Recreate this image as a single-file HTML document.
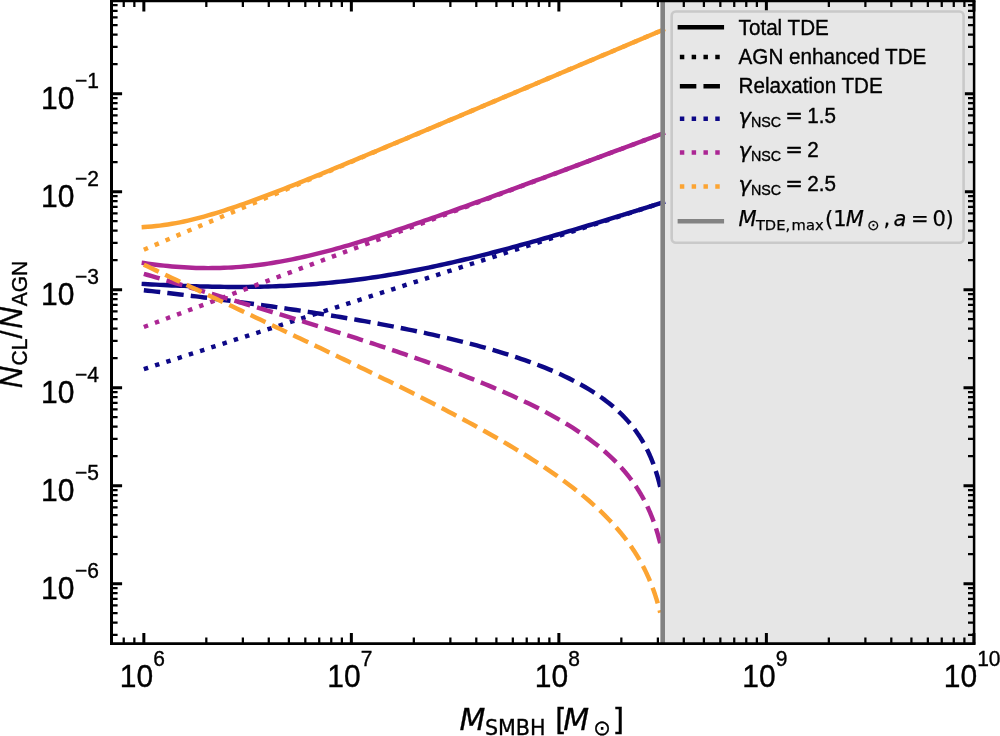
<!DOCTYPE html>
<html lang="en"><head><meta charset="utf-8"><title>TDE rate vs SMBH mass</title>
<style>html,body{margin:0;padding:0;background:#fff;}svg{display:block;}</style></head>
<body>
<svg width="1000" height="736" viewBox="0 0 1000 736">
<rect x="0" y="0" width="1000" height="736" fill="#ffffff"/>
<clipPath id="ax"><rect x="111.5" y="1.0" width="862.60" height="642.70"/></clipPath>
<rect x="662.4" y="1.0" width="311.70" height="642.70" fill="#e6e6e6"/>
<g clip-path="url(#ax)" fill="none">
<path d="M143.85,284.01 L147.86,284.23 L151.87,284.45 L155.88,284.65 L159.89,284.85 L163.90,285.04 L167.91,285.23 L171.92,285.41 L175.94,285.58 L179.95,285.74 L183.96,285.89 L187.97,286.03 L191.98,286.16 L195.99,286.29 L200.00,286.40 L204.01,286.51 L208.02,286.60 L212.03,286.68 L216.04,286.75 L220.05,286.81 L224.06,286.86 L228.07,286.90 L232.09,286.92 L236.10,286.93 L240.11,286.92 L244.12,286.91 L248.13,286.88 L252.14,286.83 L256.15,286.77 L260.16,286.70 L264.17,286.61 L268.18,286.50 L272.19,286.38 L276.20,286.24 L280.21,286.09 L284.22,285.92 L288.24,285.73 L292.25,285.52 L296.26,285.30 L300.27,285.06 L304.28,284.80 L308.29,284.53 L312.30,284.23 L316.31,283.92 L320.32,283.59 L324.33,283.24 L328.34,282.87 L332.35,282.48 L336.36,282.08 L340.37,281.65 L344.38,281.21 L348.40,280.74 L352.41,280.26 L356.42,279.76 L360.43,279.24 L364.44,278.70 L368.45,278.14 L372.46,277.56 L376.47,276.96 L380.48,276.35 L384.49,275.71 L388.50,275.06 L392.51,274.39 L396.52,273.70 L400.53,273.00 L404.55,272.27 L408.56,271.53 L412.57,270.78 L416.58,270.00 L420.59,269.21 L424.60,268.41 L428.61,267.58 L432.62,266.74 L436.63,265.89 L440.64,265.02 L444.65,264.14 L448.66,263.24 L452.67,262.33 L456.68,261.40 L460.70,260.47 L464.71,259.51 L468.72,258.55 L472.73,257.57 L476.74,256.58 L480.75,255.58 L484.76,254.57 L488.77,253.55 L492.78,252.51 L496.79,251.47 L500.80,250.42 L504.81,249.35 L508.82,248.28 L512.83,247.20 L516.84,246.10 L520.86,245.00 L524.87,243.90 L528.88,242.78 L532.89,241.65 L536.90,240.52 L540.91,239.38 L544.92,238.24 L548.93,237.09 L552.94,235.93 L556.95,234.76 L560.96,233.59 L564.97,232.41 L568.98,231.23 L572.99,230.04 L577.01,228.85 L581.02,227.65 L585.03,226.45 L589.04,225.25 L593.05,224.03 L597.06,222.82 L601.07,221.60 L605.08,220.38 L609.09,219.15 L613.10,217.92 L617.11,216.69 L621.12,215.45 L621.47,215.34 L621.82,215.24 L622.16,215.13 L622.51,215.02 L622.86,214.91 L623.20,214.81 L623.55,214.70 L623.90,214.59 L624.24,214.48 L624.59,214.38 L624.94,214.27 L625.29,214.16 L625.63,214.06 L625.98,213.95 L626.33,213.84 L626.67,213.73 L627.02,213.63 L627.37,213.52 L627.71,213.41 L628.06,213.30 L628.41,213.20 L628.75,213.09 L629.10,212.98 L629.45,212.87 L629.79,212.77 L630.14,212.66 L630.49,212.55 L630.84,212.44 L631.18,212.33 L631.53,212.23 L631.88,212.12 L632.22,212.01 L632.57,211.90 L632.92,211.80 L633.26,211.69 L633.61,211.58 L633.96,211.47 L634.30,211.36 L634.65,211.26 L635.00,211.15 L635.34,211.04 L635.69,210.93 L636.04,210.82 L636.39,210.72 L636.73,210.61 L637.08,210.50 L637.43,210.39 L637.77,210.28 L638.12,210.18 L638.47,210.07 L638.81,209.96 L639.16,209.85 L639.51,209.74 L639.85,209.63 L640.20,209.53 L640.55,209.42 L640.89,209.31 L641.24,209.20 L641.59,209.09 L641.93,208.98 L642.28,208.88 L642.63,208.77 L642.98,208.66 L643.32,208.55 L643.67,208.44 L644.02,208.33 L644.36,208.23 L644.71,208.12 L645.06,208.01 L645.40,207.90 L645.75,207.79 L646.10,207.68 L646.44,207.57 L646.79,207.47 L647.14,207.36 L647.48,207.25 L647.83,207.14 L648.18,207.03 L648.53,206.92 L648.87,206.81 L649.22,206.70 L649.57,206.60 L649.91,206.49 L650.26,206.38 L650.61,206.27 L650.95,206.16 L651.30,206.05 L651.65,205.94 L651.99,205.83 L652.34,205.72 L652.69,205.62 L653.03,205.51 L653.38,205.40 L653.73,205.29 L654.08,205.18 L654.42,205.07 L654.77,204.96 L655.12,204.85 L655.46,204.74 L655.81,204.63 L656.16,204.53 L656.50,204.42 L656.85,204.31 L657.20,204.20 L657.54,204.09 L657.89,203.98 L658.24,203.87 L658.58,203.76 L658.93,203.65 L659.28,203.54 L659.63,203.43 L659.97,203.32 L660.32,203.21 L660.67,203.11 L661.01,203.00 L661.36,202.89 L661.71,202.78 L662.05,202.67 L662.40,202.56 L663.00,202.37" stroke="#0d0887" stroke-width="4.455" stroke-linecap="square" stroke-linejoin="round"/>
<path d="M143.85,369.10 L147.86,367.81 L151.87,366.52 L155.88,365.24 L159.89,363.95 L163.90,362.66 L167.91,361.37 L171.92,360.09 L175.94,358.80 L179.95,357.51 L183.96,356.22 L187.97,354.93 L191.98,353.65 L195.99,352.36 L200.00,351.07 L204.01,349.78 L208.02,348.50 L212.03,347.21 L216.04,345.92 L220.05,344.63 L224.06,343.34 L228.07,342.06 L232.09,340.77 L236.10,339.48 L240.11,338.19 L244.12,336.91 L248.13,335.62 L252.14,334.33 L256.15,333.04 L260.16,331.75 L264.17,330.47 L268.18,329.18 L272.19,327.89 L276.20,326.60 L280.21,325.32 L284.22,324.03 L288.24,322.74 L292.25,321.45 L296.26,320.16 L300.27,318.88 L304.28,317.59 L308.29,316.30 L312.30,315.01 L316.31,313.73 L320.32,312.44 L324.33,311.15 L328.34,309.86 L332.35,308.57 L336.36,307.29 L340.37,306.00 L344.38,304.71 L348.40,303.42 L352.41,302.14 L356.42,300.85 L360.43,299.56 L364.44,298.27 L368.45,296.98 L372.46,295.70 L376.47,294.41 L380.48,293.12 L384.49,291.83 L388.50,290.55 L392.51,289.26 L396.52,287.97 L400.53,286.68 L404.55,285.39 L408.56,284.11 L412.57,282.82 L416.58,281.53 L420.59,280.24 L424.60,278.96 L428.61,277.67 L432.62,276.38 L436.63,275.09 L440.64,273.80 L444.65,272.52 L448.66,271.23 L452.67,269.94 L456.68,268.65 L460.70,267.36 L464.71,266.08 L468.72,264.79 L472.73,263.50 L476.74,262.21 L480.75,260.93 L484.76,259.64 L488.77,258.35 L492.78,257.06 L496.79,255.77 L500.80,254.49 L504.81,253.20 L508.82,251.91 L512.83,250.62 L516.84,249.34 L520.86,248.05 L524.87,246.76 L528.88,245.47 L532.89,244.18 L536.90,242.90 L540.91,241.61 L544.92,240.32 L548.93,239.03 L552.94,237.75 L556.95,236.46 L560.96,235.17 L564.97,233.88 L568.98,232.59 L572.99,231.31 L577.01,230.02 L581.02,228.73 L585.03,227.44 L589.04,226.16 L593.05,224.87 L597.06,223.58 L601.07,222.29 L605.08,221.00 L609.09,219.72 L613.10,218.43 L617.11,217.14 L621.12,215.85 L621.47,215.74 L621.82,215.63 L622.16,215.52 L622.51,215.41 L622.86,215.30 L623.20,215.19 L623.55,215.07 L623.90,214.96 L624.24,214.85 L624.59,214.74 L624.94,214.63 L625.29,214.52 L625.63,214.41 L625.98,214.29 L626.33,214.18 L626.67,214.07 L627.02,213.96 L627.37,213.85 L627.71,213.74 L628.06,213.63 L628.41,213.51 L628.75,213.40 L629.10,213.29 L629.45,213.18 L629.79,213.07 L630.14,212.96 L630.49,212.85 L630.84,212.74 L631.18,212.62 L631.53,212.51 L631.88,212.40 L632.22,212.29 L632.57,212.18 L632.92,212.07 L633.26,211.96 L633.61,211.84 L633.96,211.73 L634.30,211.62 L634.65,211.51 L635.00,211.40 L635.34,211.29 L635.69,211.18 L636.04,211.06 L636.39,210.95 L636.73,210.84 L637.08,210.73 L637.43,210.62 L637.77,210.51 L638.12,210.40 L638.47,210.28 L638.81,210.17 L639.16,210.06 L639.51,209.95 L639.85,209.84 L640.20,209.73 L640.55,209.62 L640.89,209.51 L641.24,209.39 L641.59,209.28 L641.93,209.17 L642.28,209.06 L642.63,208.95 L642.98,208.84 L643.32,208.73 L643.67,208.61 L644.02,208.50 L644.36,208.39 L644.71,208.28 L645.06,208.17 L645.40,208.06 L645.75,207.95 L646.10,207.83 L646.44,207.72 L646.79,207.61 L647.14,207.50 L647.48,207.39 L647.83,207.28 L648.18,207.17 L648.53,207.05 L648.87,206.94 L649.22,206.83 L649.57,206.72 L649.91,206.61 L650.26,206.50 L650.61,206.39 L650.95,206.28 L651.30,206.16 L651.65,206.05 L651.99,205.94 L652.34,205.83 L652.69,205.72 L653.03,205.61 L653.38,205.50 L653.73,205.38 L654.08,205.27 L654.42,205.16 L654.77,205.05 L655.12,204.94 L655.46,204.83 L655.81,204.72 L656.16,204.60 L656.50,204.49 L656.85,204.38 L657.20,204.27 L657.54,204.16 L657.89,204.05 L658.24,203.94 L658.58,203.83 L658.93,203.71 L659.28,203.60 L659.63,203.49 L659.97,203.38 L660.32,203.27 L660.67,203.16 L661.01,203.05 L661.36,202.93 L661.71,202.82 L662.05,202.71 L662.40,202.60" stroke="#0d0887" stroke-width="4.455" stroke-dasharray="4.455 7.351"/>
<path d="M143.85,290.21 L147.86,290.67 L151.87,291.13 L155.88,291.60 L159.89,292.07 L163.90,292.54 L167.91,293.01 L171.92,293.49 L175.94,293.97 L179.95,294.45 L183.96,294.94 L187.97,295.43 L191.98,295.92 L195.99,296.41 L200.00,296.91 L204.01,297.42 L208.02,297.92 L212.03,298.43 L216.04,298.94 L220.05,299.46 L224.06,299.98 L228.07,300.50 L232.09,301.03 L236.10,301.56 L240.11,302.09 L244.12,302.63 L248.13,303.17 L252.14,303.72 L256.15,304.27 L260.16,304.83 L264.17,305.39 L268.18,305.95 L272.19,306.52 L276.20,307.10 L280.21,307.68 L284.22,308.26 L288.24,308.85 L292.25,309.44 L296.26,310.04 L300.27,310.65 L304.28,311.26 L308.29,311.87 L312.30,312.49 L316.31,313.12 L320.32,313.75 L324.33,314.39 L328.34,315.04 L332.35,315.69 L336.36,316.35 L340.37,317.02 L344.38,317.69 L348.40,318.37 L352.41,319.06 L356.42,319.75 L360.43,320.45 L364.44,321.16 L368.45,321.88 L372.46,322.61 L376.47,323.34 L380.48,324.09 L384.49,324.84 L388.50,325.60 L392.51,326.38 L396.52,327.16 L400.53,327.95 L404.55,328.75 L408.56,329.57 L412.57,330.39 L416.58,331.23 L420.59,332.08 L424.60,332.94 L428.61,333.81 L432.62,334.70 L436.63,335.60 L440.64,336.51 L444.65,337.44 L448.66,338.38 L452.67,339.34 L456.68,340.32 L460.70,341.31 L464.71,342.32 L468.72,343.35 L472.73,344.39 L476.74,345.46 L480.75,346.55 L484.76,347.66 L488.77,348.79 L492.78,349.94 L496.79,351.12 L500.80,352.32 L504.81,353.56 L508.82,354.81 L512.83,356.10 L516.84,357.42 L520.86,358.77 L524.87,360.16 L528.88,361.58 L532.89,363.05 L536.90,364.55 L540.91,366.09 L544.92,367.68 L548.93,369.32 L552.94,371.02 L556.95,372.77 L560.96,374.57 L564.97,376.44 L568.98,378.38 L572.99,380.40 L577.01,382.50 L581.02,384.68 L585.03,386.96 L589.04,389.34 L593.05,391.84 L597.06,394.47 L601.07,397.24 L605.08,400.16 L609.09,403.26 L613.10,406.57 L617.11,410.10 L621.12,413.90 L621.47,414.24 L621.82,414.59 L622.16,414.93 L622.51,415.28 L622.86,415.64 L623.20,415.99 L623.55,416.35 L623.90,416.71 L624.24,417.07 L624.59,417.43 L624.94,417.80 L625.29,418.17 L625.63,418.54 L625.98,418.92 L626.33,419.29 L626.67,419.68 L627.02,420.06 L627.37,420.45 L627.71,420.84 L628.06,421.23 L628.41,421.62 L628.75,422.02 L629.10,422.43 L629.45,422.83 L629.79,423.24 L630.14,423.65 L630.49,424.07 L630.84,424.49 L631.18,424.91 L631.53,425.34 L631.88,425.77 L632.22,426.20 L632.57,426.64 L632.92,427.08 L633.26,427.52 L633.61,427.97 L633.96,428.42 L634.30,428.88 L634.65,429.34 L635.00,429.81 L635.34,430.28 L635.69,430.75 L636.04,431.23 L636.39,431.71 L636.73,432.20 L637.08,432.70 L637.43,433.19 L637.77,433.70 L638.12,434.20 L638.47,434.72 L638.81,435.24 L639.16,435.76 L639.51,436.29 L639.85,436.83 L640.20,437.37 L640.55,437.91 L640.89,438.47 L641.24,439.03 L641.59,439.59 L641.93,440.16 L642.28,440.74 L642.63,441.33 L642.98,441.92 L643.32,442.52 L643.67,443.12 L644.02,443.74 L644.36,444.36 L644.71,444.99 L645.06,445.63 L645.40,446.27 L645.75,446.93 L646.10,447.59 L646.44,448.26 L646.79,448.94 L647.14,449.64 L647.48,450.34 L647.83,451.05 L648.18,451.77 L648.53,452.50 L648.87,453.24 L649.22,453.99 L649.57,454.76 L649.91,455.54 L650.26,456.33 L650.61,457.13 L650.95,457.94 L651.30,458.77 L651.65,459.61 L651.99,460.47 L652.34,461.34 L652.69,462.23 L653.03,463.14 L653.38,464.06 L653.73,465.00 L654.08,465.95 L654.42,466.93 L654.77,467.92 L655.12,468.94 L655.46,469.98 L655.81,471.04 L656.16,472.12 L656.50,473.22 L656.85,474.35 L657.20,475.51 L657.54,476.70 L657.89,477.91 L658.24,479.16 L658.58,480.44 L658.93,481.75 L659.28,483.09 L659.63,484.48 L659.97,485.90 L660.20,486.86" stroke="#0d0887" stroke-width="4.455" stroke-dasharray="16.483 7.128" stroke-linejoin="round"/>
<path d="M143.85,263.08 L147.86,263.65 L151.87,264.19 L155.88,264.70 L159.89,265.18 L163.90,265.63 L167.91,266.04 L171.92,266.42 L175.94,266.76 L179.95,267.06 L183.96,267.33 L187.97,267.56 L191.98,267.75 L195.99,267.90 L200.00,268.01 L204.01,268.08 L208.02,268.11 L212.03,268.10 L216.04,268.05 L220.05,267.95 L224.06,267.82 L228.07,267.64 L232.09,267.42 L236.10,267.15 L240.11,266.85 L244.12,266.50 L248.13,266.12 L252.14,265.69 L256.15,265.23 L260.16,264.72 L264.17,264.17 L268.18,263.59 L272.19,262.97 L276.20,262.31 L280.21,261.62 L284.22,260.89 L288.24,260.13 L292.25,259.33 L296.26,258.51 L300.27,257.65 L304.28,256.76 L308.29,255.84 L312.30,254.90 L316.31,253.93 L320.32,252.93 L324.33,251.90 L328.34,250.85 L332.35,249.78 L336.36,248.69 L340.37,247.58 L344.38,246.44 L348.40,245.29 L352.41,244.11 L356.42,242.92 L360.43,241.72 L364.44,240.49 L368.45,239.26 L372.46,238.00 L376.47,236.74 L380.48,235.46 L384.49,234.17 L388.50,232.86 L392.51,231.55 L396.52,230.22 L400.53,228.89 L404.55,227.54 L408.56,226.19 L412.57,224.83 L416.58,223.45 L420.59,222.08 L424.60,220.69 L428.61,219.30 L432.62,217.90 L436.63,216.50 L440.64,215.09 L444.65,213.67 L448.66,212.25 L452.67,210.83 L456.68,209.40 L460.70,207.97 L464.71,206.53 L468.72,205.09 L472.73,203.65 L476.74,202.20 L480.75,200.75 L484.76,199.29 L488.77,197.84 L492.78,196.38 L496.79,194.92 L500.80,193.46 L504.81,191.99 L508.82,190.52 L512.83,189.05 L516.84,187.58 L520.86,186.11 L524.87,184.63 L528.88,183.16 L532.89,181.68 L536.90,180.20 L540.91,178.72 L544.92,177.24 L548.93,175.76 L552.94,174.28 L556.95,172.80 L560.96,171.31 L564.97,169.83 L568.98,168.34 L572.99,166.85 L577.01,165.37 L581.02,163.88 L585.03,162.39 L589.04,160.90 L593.05,159.41 L597.06,157.92 L601.07,156.43 L605.08,154.94 L609.09,153.45 L613.10,151.96 L617.11,150.46 L621.12,148.97 L621.47,148.84 L621.82,148.71 L622.16,148.58 L622.51,148.45 L622.86,148.33 L623.20,148.20 L623.55,148.07 L623.90,147.94 L624.24,147.81 L624.59,147.68 L624.94,147.55 L625.29,147.42 L625.63,147.29 L625.98,147.16 L626.33,147.03 L626.67,146.91 L627.02,146.78 L627.37,146.65 L627.71,146.52 L628.06,146.39 L628.41,146.26 L628.75,146.13 L629.10,146.00 L629.45,145.87 L629.79,145.74 L630.14,145.61 L630.49,145.48 L630.84,145.36 L631.18,145.23 L631.53,145.10 L631.88,144.97 L632.22,144.84 L632.57,144.71 L632.92,144.58 L633.26,144.45 L633.61,144.32 L633.96,144.19 L634.30,144.06 L634.65,143.94 L635.00,143.81 L635.34,143.68 L635.69,143.55 L636.04,143.42 L636.39,143.29 L636.73,143.16 L637.08,143.03 L637.43,142.90 L637.77,142.77 L638.12,142.64 L638.47,142.51 L638.81,142.39 L639.16,142.26 L639.51,142.13 L639.85,142.00 L640.20,141.87 L640.55,141.74 L640.89,141.61 L641.24,141.48 L641.59,141.35 L641.93,141.22 L642.28,141.09 L642.63,140.96 L642.98,140.83 L643.32,140.71 L643.67,140.58 L644.02,140.45 L644.36,140.32 L644.71,140.19 L645.06,140.06 L645.40,139.93 L645.75,139.80 L646.10,139.67 L646.44,139.54 L646.79,139.41 L647.14,139.28 L647.48,139.16 L647.83,139.03 L648.18,138.90 L648.53,138.77 L648.87,138.64 L649.22,138.51 L649.57,138.38 L649.91,138.25 L650.26,138.12 L650.61,137.99 L650.95,137.86 L651.30,137.73 L651.65,137.60 L651.99,137.48 L652.34,137.35 L652.69,137.22 L653.03,137.09 L653.38,136.96 L653.73,136.83 L654.08,136.70 L654.42,136.57 L654.77,136.44 L655.12,136.31 L655.46,136.18 L655.81,136.05 L656.16,135.92 L656.50,135.80 L656.85,135.67 L657.20,135.54 L657.54,135.41 L657.89,135.28 L658.24,135.15 L658.58,135.02 L658.93,134.89 L659.28,134.76 L659.63,134.63 L659.97,134.50 L660.32,134.37 L660.67,134.24 L661.01,134.11 L661.36,133.99 L661.71,133.86 L662.05,133.73 L662.40,133.60 L663.00,133.37" stroke="#ac2694" stroke-width="4.455" stroke-linecap="square" stroke-linejoin="round"/>
<path d="M143.85,327.00 L147.86,325.50 L151.87,324.01 L155.88,322.51 L159.89,321.02 L163.90,319.52 L167.91,318.02 L171.92,316.53 L175.94,315.03 L179.95,313.54 L183.96,312.04 L187.97,310.55 L191.98,309.05 L195.99,307.55 L200.00,306.06 L204.01,304.56 L208.02,303.07 L212.03,301.57 L216.04,300.07 L220.05,298.58 L224.06,297.08 L228.07,295.59 L232.09,294.09 L236.10,292.60 L240.11,291.10 L244.12,289.60 L248.13,288.11 L252.14,286.61 L256.15,285.12 L260.16,283.62 L264.17,282.12 L268.18,280.63 L272.19,279.13 L276.20,277.64 L280.21,276.14 L284.22,274.65 L288.24,273.15 L292.25,271.65 L296.26,270.16 L300.27,268.66 L304.28,267.17 L308.29,265.67 L312.30,264.17 L316.31,262.68 L320.32,261.18 L324.33,259.69 L328.34,258.19 L332.35,256.70 L336.36,255.20 L340.37,253.70 L344.38,252.21 L348.40,250.71 L352.41,249.22 L356.42,247.72 L360.43,246.22 L364.44,244.73 L368.45,243.23 L372.46,241.74 L376.47,240.24 L380.48,238.75 L384.49,237.25 L388.50,235.75 L392.51,234.26 L396.52,232.76 L400.53,231.27 L404.55,229.77 L408.56,228.27 L412.57,226.78 L416.58,225.28 L420.59,223.79 L424.60,222.29 L428.61,220.80 L432.62,219.30 L436.63,217.80 L440.64,216.31 L444.65,214.81 L448.66,213.32 L452.67,211.82 L456.68,210.32 L460.70,208.83 L464.71,207.33 L468.72,205.84 L472.73,204.34 L476.74,202.85 L480.75,201.35 L484.76,199.85 L488.77,198.36 L492.78,196.86 L496.79,195.37 L500.80,193.87 L504.81,192.37 L508.82,190.88 L512.83,189.38 L516.84,187.89 L520.86,186.39 L524.87,184.90 L528.88,183.40 L532.89,181.90 L536.90,180.41 L540.91,178.91 L544.92,177.42 L548.93,175.92 L552.94,174.42 L556.95,172.93 L560.96,171.43 L564.97,169.94 L568.98,168.44 L572.99,166.94 L577.01,165.45 L581.02,163.95 L585.03,162.46 L589.04,160.96 L593.05,159.47 L597.06,157.97 L601.07,156.47 L605.08,154.98 L609.09,153.48 L613.10,151.99 L617.11,150.49 L621.12,148.99 L621.47,148.87 L621.82,148.74 L622.16,148.61 L622.51,148.48 L622.86,148.35 L623.20,148.22 L623.55,148.09 L623.90,147.96 L624.24,147.83 L624.59,147.70 L624.94,147.57 L625.29,147.44 L625.63,147.31 L625.98,147.18 L626.33,147.05 L626.67,146.92 L627.02,146.80 L627.37,146.67 L627.71,146.54 L628.06,146.41 L628.41,146.28 L628.75,146.15 L629.10,146.02 L629.45,145.89 L629.79,145.76 L630.14,145.63 L630.49,145.50 L630.84,145.37 L631.18,145.24 L631.53,145.11 L631.88,144.98 L632.22,144.86 L632.57,144.73 L632.92,144.60 L633.26,144.47 L633.61,144.34 L633.96,144.21 L634.30,144.08 L634.65,143.95 L635.00,143.82 L635.34,143.69 L635.69,143.56 L636.04,143.43 L636.39,143.30 L636.73,143.17 L637.08,143.04 L637.43,142.91 L637.77,142.79 L638.12,142.66 L638.47,142.53 L638.81,142.40 L639.16,142.27 L639.51,142.14 L639.85,142.01 L640.20,141.88 L640.55,141.75 L640.89,141.62 L641.24,141.49 L641.59,141.36 L641.93,141.23 L642.28,141.10 L642.63,140.97 L642.98,140.84 L643.32,140.72 L643.67,140.59 L644.02,140.46 L644.36,140.33 L644.71,140.20 L645.06,140.07 L645.40,139.94 L645.75,139.81 L646.10,139.68 L646.44,139.55 L646.79,139.42 L647.14,139.29 L647.48,139.16 L647.83,139.03 L648.18,138.90 L648.53,138.77 L648.87,138.65 L649.22,138.52 L649.57,138.39 L649.91,138.26 L650.26,138.13 L650.61,138.00 L650.95,137.87 L651.30,137.74 L651.65,137.61 L651.99,137.48 L652.34,137.35 L652.69,137.22 L653.03,137.09 L653.38,136.96 L653.73,136.83 L654.08,136.70 L654.42,136.58 L654.77,136.45 L655.12,136.32 L655.46,136.19 L655.81,136.06 L656.16,135.93 L656.50,135.80 L656.85,135.67 L657.20,135.54 L657.54,135.41 L657.89,135.28 L658.24,135.15 L658.58,135.02 L658.93,134.89 L659.28,134.76 L659.63,134.63 L659.97,134.51 L660.32,134.38 L660.67,134.25 L661.01,134.12 L661.36,133.99 L661.71,133.86 L662.05,133.73 L662.40,133.60" stroke="#ac2694" stroke-width="4.455" stroke-dasharray="4.455 7.351"/>
<path d="M143.85,273.80 L147.86,274.99 L151.87,276.17 L155.88,277.35 L159.89,278.54 L163.90,279.72 L167.91,280.91 L171.92,282.09 L175.94,283.28 L179.95,284.46 L183.96,285.65 L187.97,286.84 L191.98,288.02 L195.99,289.21 L200.00,290.40 L204.01,291.59 L208.02,292.78 L212.03,293.97 L216.04,295.16 L220.05,296.36 L224.06,297.55 L228.07,298.75 L232.09,299.94 L236.10,301.14 L240.11,302.34 L244.12,303.54 L248.13,304.75 L252.14,305.95 L256.15,307.16 L260.16,308.37 L264.17,309.58 L268.18,310.79 L272.19,312.00 L276.20,313.22 L280.21,314.44 L284.22,315.66 L288.24,316.88 L292.25,318.11 L296.26,319.34 L300.27,320.57 L304.28,321.81 L308.29,323.05 L312.30,324.29 L316.31,325.53 L320.32,326.78 L324.33,328.04 L328.34,329.29 L332.35,330.56 L336.36,331.82 L340.37,333.09 L344.38,334.36 L348.40,335.64 L352.41,336.93 L356.42,338.22 L360.43,339.51 L364.44,340.81 L368.45,342.12 L372.46,343.43 L376.47,344.75 L380.48,346.07 L384.49,347.40 L388.50,348.74 L392.51,350.09 L396.52,351.44 L400.53,352.81 L404.55,354.18 L408.56,355.55 L412.57,356.94 L416.58,358.34 L420.59,359.75 L424.60,361.16 L428.61,362.59 L432.62,364.03 L436.63,365.48 L440.64,366.94 L444.65,368.42 L448.66,369.91 L452.67,371.41 L456.68,372.92 L460.70,374.45 L464.71,376.00 L468.72,377.56 L472.73,379.14 L476.74,380.74 L480.75,382.36 L484.76,383.99 L488.77,385.65 L492.78,387.33 L496.79,389.03 L500.80,390.75 L504.81,392.50 L508.82,394.28 L512.83,396.08 L516.84,397.91 L520.86,399.78 L524.87,401.68 L528.88,403.61 L532.89,405.58 L536.90,407.59 L540.91,409.64 L544.92,411.74 L548.93,413.89 L552.94,416.08 L556.95,418.33 L560.96,420.64 L564.97,423.01 L568.98,425.45 L572.99,427.97 L577.01,430.57 L581.02,433.25 L585.03,436.03 L589.04,438.91 L593.05,441.91 L597.06,445.03 L601.07,448.29 L605.08,451.72 L609.09,455.32 L613.10,459.12 L617.11,463.14 L621.12,467.43 L621.47,467.82 L621.82,468.20 L622.16,468.59 L622.51,468.99 L622.86,469.38 L623.20,469.78 L623.55,470.18 L623.90,470.58 L624.24,470.98 L624.59,471.39 L624.94,471.80 L625.29,472.21 L625.63,472.62 L625.98,473.04 L626.33,473.46 L626.67,473.88 L627.02,474.31 L627.37,474.74 L627.71,475.17 L628.06,475.60 L628.41,476.04 L628.75,476.48 L629.10,476.92 L629.45,477.37 L629.79,477.82 L630.14,478.27 L630.49,478.73 L630.84,479.19 L631.18,479.65 L631.53,480.12 L631.88,480.59 L632.22,481.07 L632.57,481.54 L632.92,482.02 L633.26,482.51 L633.61,483.00 L633.96,483.49 L634.30,483.99 L634.65,484.49 L635.00,485.00 L635.34,485.51 L635.69,486.02 L636.04,486.54 L636.39,487.06 L636.73,487.59 L637.08,488.12 L637.43,488.66 L637.77,489.20 L638.12,489.74 L638.47,490.30 L638.81,490.85 L639.16,491.41 L639.51,491.98 L639.85,492.55 L640.20,493.13 L640.55,493.72 L640.89,494.30 L641.24,494.90 L641.59,495.50 L641.93,496.11 L642.28,496.72 L642.63,497.34 L642.98,497.97 L643.32,498.60 L643.67,499.24 L644.02,499.89 L644.36,500.55 L644.71,501.21 L645.06,501.88 L645.40,502.56 L645.75,503.24 L646.10,503.94 L646.44,504.64 L646.79,505.35 L647.14,506.07 L647.48,506.80 L647.83,507.54 L648.18,508.28 L648.53,509.04 L648.87,509.81 L649.22,510.59 L649.57,511.38 L649.91,512.17 L650.26,512.99 L650.61,513.81 L650.95,514.64 L651.30,515.49 L651.65,516.35 L651.99,517.22 L652.34,518.11 L652.69,519.01 L653.03,519.93 L653.38,520.86 L653.73,521.80 L654.08,522.77 L654.42,523.75 L654.77,524.74 L655.12,525.76 L655.46,526.79 L655.81,527.84 L656.16,528.92 L656.50,530.01 L656.85,531.13 L657.20,532.26 L657.54,533.43 L657.89,534.61 L658.24,535.83 L658.58,537.07 L658.93,538.34 L659.28,539.64 L659.63,540.97 L659.97,542.33 L660.20,543.25" stroke="#ac2694" stroke-width="4.455" stroke-dasharray="16.483 7.128" stroke-linejoin="round"/>
<path d="M143.85,227.03 L147.86,226.78 L151.87,226.46 L155.88,226.07 L159.89,225.61 L163.90,225.08 L167.91,224.48 L171.92,223.82 L175.94,223.10 L179.95,222.32 L183.96,221.48 L187.97,220.59 L191.98,219.65 L195.99,218.65 L200.00,217.61 L204.01,216.53 L208.02,215.40 L212.03,214.24 L216.04,213.04 L220.05,211.80 L224.06,210.53 L228.07,209.23 L232.09,207.90 L236.10,206.54 L240.11,205.16 L244.12,203.76 L248.13,202.33 L252.14,200.88 L256.15,199.41 L260.16,197.93 L264.17,196.43 L268.18,194.91 L272.19,193.38 L276.20,191.84 L280.21,190.29 L284.22,188.72 L288.24,187.14 L292.25,185.56 L296.26,183.96 L300.27,182.36 L304.28,180.75 L308.29,179.13 L312.30,177.51 L316.31,175.88 L320.32,174.24 L324.33,172.60 L328.34,170.96 L332.35,169.31 L336.36,167.66 L340.37,166.00 L344.38,164.34 L348.40,162.68 L352.41,161.01 L356.42,159.34 L360.43,157.67 L364.44,156.00 L368.45,154.32 L372.46,152.65 L376.47,150.97 L380.48,149.29 L384.49,147.61 L388.50,145.92 L392.51,144.24 L396.52,142.55 L400.53,140.87 L404.55,139.18 L408.56,137.49 L412.57,135.80 L416.58,134.11 L420.59,132.42 L424.60,130.73 L428.61,129.04 L432.62,127.34 L436.63,125.65 L440.64,123.96 L444.65,122.26 L448.66,120.57 L452.67,118.88 L456.68,117.18 L460.70,115.48 L464.71,113.79 L468.72,112.09 L472.73,110.40 L476.74,108.70 L480.75,107.01 L484.76,105.31 L488.77,103.61 L492.78,101.92 L496.79,100.22 L500.80,98.52 L504.81,96.82 L508.82,95.13 L512.83,93.43 L516.84,91.73 L520.86,90.03 L524.87,88.34 L528.88,86.64 L532.89,84.94 L536.90,83.24 L540.91,81.54 L544.92,79.85 L548.93,78.15 L552.94,76.45 L556.95,74.75 L560.96,73.05 L564.97,71.36 L568.98,69.66 L572.99,67.96 L577.01,66.26 L581.02,64.56 L585.03,62.87 L589.04,61.17 L593.05,59.47 L597.06,57.77 L601.07,56.07 L605.08,54.37 L609.09,52.68 L613.10,50.98 L617.11,49.28 L621.12,47.58 L621.47,47.43 L621.82,47.29 L622.16,47.14 L622.51,46.99 L622.86,46.85 L623.20,46.70 L623.55,46.55 L623.90,46.40 L624.24,46.26 L624.59,46.11 L624.94,45.96 L625.29,45.82 L625.63,45.67 L625.98,45.52 L626.33,45.38 L626.67,45.23 L627.02,45.08 L627.37,44.94 L627.71,44.79 L628.06,44.64 L628.41,44.50 L628.75,44.35 L629.10,44.20 L629.45,44.05 L629.79,43.91 L630.14,43.76 L630.49,43.61 L630.84,43.47 L631.18,43.32 L631.53,43.17 L631.88,43.03 L632.22,42.88 L632.57,42.73 L632.92,42.59 L633.26,42.44 L633.61,42.29 L633.96,42.14 L634.30,42.00 L634.65,41.85 L635.00,41.70 L635.34,41.56 L635.69,41.41 L636.04,41.26 L636.39,41.12 L636.73,40.97 L637.08,40.82 L637.43,40.68 L637.77,40.53 L638.12,40.38 L638.47,40.24 L638.81,40.09 L639.16,39.94 L639.51,39.79 L639.85,39.65 L640.20,39.50 L640.55,39.35 L640.89,39.21 L641.24,39.06 L641.59,38.91 L641.93,38.77 L642.28,38.62 L642.63,38.47 L642.98,38.33 L643.32,38.18 L643.67,38.03 L644.02,37.89 L644.36,37.74 L644.71,37.59 L645.06,37.44 L645.40,37.30 L645.75,37.15 L646.10,37.00 L646.44,36.86 L646.79,36.71 L647.14,36.56 L647.48,36.42 L647.83,36.27 L648.18,36.12 L648.53,35.98 L648.87,35.83 L649.22,35.68 L649.57,35.53 L649.91,35.39 L650.26,35.24 L650.61,35.09 L650.95,34.95 L651.30,34.80 L651.65,34.65 L651.99,34.51 L652.34,34.36 L652.69,34.21 L653.03,34.07 L653.38,33.92 L653.73,33.77 L654.08,33.63 L654.42,33.48 L654.77,33.33 L655.12,33.18 L655.46,33.04 L655.81,32.89 L656.16,32.74 L656.50,32.60 L656.85,32.45 L657.20,32.30 L657.54,32.16 L657.89,32.01 L658.24,31.86 L658.58,31.72 L658.93,31.57 L659.28,31.42 L659.63,31.28 L659.97,31.13 L660.32,30.98 L660.67,30.83 L661.01,30.69 L661.36,30.54 L661.71,30.39 L662.05,30.25 L662.40,30.10 L663.00,29.85" stroke="#fca432" stroke-width="4.455" stroke-linecap="square" stroke-linejoin="round"/>
<path d="M143.85,249.70 L147.86,248.00 L151.87,246.30 L155.88,244.60 L159.89,242.91 L163.90,241.21 L167.91,239.51 L171.92,237.81 L175.94,236.11 L179.95,234.41 L183.96,232.72 L187.97,231.02 L191.98,229.32 L195.99,227.62 L200.00,225.92 L204.01,224.22 L208.02,222.52 L212.03,220.83 L216.04,219.13 L220.05,217.43 L224.06,215.73 L228.07,214.03 L232.09,212.33 L236.10,210.63 L240.11,208.94 L244.12,207.24 L248.13,205.54 L252.14,203.84 L256.15,202.14 L260.16,200.44 L264.17,198.75 L268.18,197.05 L272.19,195.35 L276.20,193.65 L280.21,191.95 L284.22,190.25 L288.24,188.55 L292.25,186.86 L296.26,185.16 L300.27,183.46 L304.28,181.76 L308.29,180.06 L312.30,178.36 L316.31,176.67 L320.32,174.97 L324.33,173.27 L328.34,171.57 L332.35,169.87 L336.36,168.17 L340.37,166.47 L344.38,164.78 L348.40,163.08 L352.41,161.38 L356.42,159.68 L360.43,157.98 L364.44,156.28 L368.45,154.58 L372.46,152.89 L376.47,151.19 L380.48,149.49 L384.49,147.79 L388.50,146.09 L392.51,144.39 L396.52,142.70 L400.53,141.00 L404.55,139.30 L408.56,137.60 L412.57,135.90 L416.58,134.20 L420.59,132.50 L424.60,130.81 L428.61,129.11 L432.62,127.41 L436.63,125.71 L440.64,124.01 L444.65,122.31 L448.66,120.62 L452.67,118.92 L456.68,117.22 L460.70,115.52 L464.71,113.82 L468.72,112.12 L472.73,110.42 L476.74,108.73 L480.75,107.03 L484.76,105.33 L488.77,103.63 L492.78,101.93 L496.79,100.23 L500.80,98.53 L504.81,96.84 L508.82,95.14 L512.83,93.44 L516.84,91.74 L520.86,90.04 L524.87,88.34 L528.88,86.65 L532.89,84.95 L536.90,83.25 L540.91,81.55 L544.92,79.85 L548.93,78.15 L552.94,76.45 L556.95,74.76 L560.96,73.06 L564.97,71.36 L568.98,69.66 L572.99,67.96 L577.01,66.26 L581.02,64.57 L585.03,62.87 L589.04,61.17 L593.05,59.47 L597.06,57.77 L601.07,56.07 L605.08,54.37 L609.09,52.68 L613.10,50.98 L617.11,49.28 L621.12,47.58 L621.47,47.43 L621.82,47.29 L622.16,47.14 L622.51,46.99 L622.86,46.85 L623.20,46.70 L623.55,46.55 L623.90,46.41 L624.24,46.26 L624.59,46.11 L624.94,45.96 L625.29,45.82 L625.63,45.67 L625.98,45.52 L626.33,45.38 L626.67,45.23 L627.02,45.08 L627.37,44.94 L627.71,44.79 L628.06,44.64 L628.41,44.50 L628.75,44.35 L629.10,44.20 L629.45,44.05 L629.79,43.91 L630.14,43.76 L630.49,43.61 L630.84,43.47 L631.18,43.32 L631.53,43.17 L631.88,43.03 L632.22,42.88 L632.57,42.73 L632.92,42.59 L633.26,42.44 L633.61,42.29 L633.96,42.15 L634.30,42.00 L634.65,41.85 L635.00,41.70 L635.34,41.56 L635.69,41.41 L636.04,41.26 L636.39,41.12 L636.73,40.97 L637.08,40.82 L637.43,40.68 L637.77,40.53 L638.12,40.38 L638.47,40.24 L638.81,40.09 L639.16,39.94 L639.51,39.79 L639.85,39.65 L640.20,39.50 L640.55,39.35 L640.89,39.21 L641.24,39.06 L641.59,38.91 L641.93,38.77 L642.28,38.62 L642.63,38.47 L642.98,38.33 L643.32,38.18 L643.67,38.03 L644.02,37.89 L644.36,37.74 L644.71,37.59 L645.06,37.44 L645.40,37.30 L645.75,37.15 L646.10,37.00 L646.44,36.86 L646.79,36.71 L647.14,36.56 L647.48,36.42 L647.83,36.27 L648.18,36.12 L648.53,35.98 L648.87,35.83 L649.22,35.68 L649.57,35.54 L649.91,35.39 L650.26,35.24 L650.61,35.09 L650.95,34.95 L651.30,34.80 L651.65,34.65 L651.99,34.51 L652.34,34.36 L652.69,34.21 L653.03,34.07 L653.38,33.92 L653.73,33.77 L654.08,33.63 L654.42,33.48 L654.77,33.33 L655.12,33.18 L655.46,33.04 L655.81,32.89 L656.16,32.74 L656.50,32.60 L656.85,32.45 L657.20,32.30 L657.54,32.16 L657.89,32.01 L658.24,31.86 L658.58,31.72 L658.93,31.57 L659.28,31.42 L659.63,31.28 L659.97,31.13 L660.32,30.98 L660.67,30.83 L661.01,30.69 L661.36,30.54 L661.71,30.39 L662.05,30.25 L662.40,30.10" stroke="#fca432" stroke-width="4.455" stroke-dasharray="4.455 7.351"/>
<path d="M143.85,264.68 L147.86,266.58 L151.87,268.48 L155.88,270.38 L159.89,272.28 L163.90,274.18 L167.91,276.08 L171.92,277.98 L175.94,279.87 L179.95,281.77 L183.96,283.66 L187.97,285.55 L191.98,287.45 L195.99,289.34 L200.00,291.23 L204.01,293.12 L208.02,295.01 L212.03,296.90 L216.04,298.79 L220.05,300.68 L224.06,302.57 L228.07,304.46 L232.09,306.35 L236.10,308.24 L240.11,310.13 L244.12,312.02 L248.13,313.91 L252.14,315.80 L256.15,317.69 L260.16,319.59 L264.17,321.48 L268.18,323.37 L272.19,325.26 L276.20,327.16 L280.21,329.05 L284.22,330.95 L288.24,332.85 L292.25,334.75 L296.26,336.65 L300.27,338.55 L304.28,340.46 L308.29,342.36 L312.30,344.27 L316.31,346.18 L320.32,348.09 L324.33,350.01 L328.34,351.93 L332.35,353.85 L336.36,355.77 L340.37,357.70 L344.38,359.62 L348.40,361.56 L352.41,363.49 L356.42,365.43 L360.43,367.38 L364.44,369.32 L368.45,371.28 L372.46,373.23 L376.47,375.20 L380.48,377.16 L384.49,379.13 L388.50,381.11 L392.51,383.10 L396.52,385.09 L400.53,387.08 L404.55,389.08 L408.56,391.09 L412.57,393.11 L416.58,395.14 L420.59,397.17 L424.60,399.21 L428.61,401.26 L432.62,403.32 L436.63,405.39 L440.64,407.47 L444.65,409.56 L448.66,411.67 L452.67,413.78 L456.68,415.91 L460.70,418.05 L464.71,420.20 L468.72,422.37 L472.73,424.55 L476.74,426.75 L480.75,428.97 L484.76,431.20 L488.77,433.46 L492.78,435.73 L496.79,438.02 L500.80,440.33 L504.81,442.67 L508.82,445.03 L512.83,447.42 L516.84,449.84 L520.86,452.28 L524.87,454.75 L528.88,457.26 L532.89,459.80 L536.90,462.38 L540.91,465.00 L544.92,467.66 L548.93,470.36 L552.94,473.12 L556.95,475.92 L560.96,478.78 L564.97,481.70 L568.98,484.69 L572.99,487.74 L577.01,490.87 L581.02,494.08 L585.03,497.39 L589.04,500.79 L593.05,504.31 L597.06,507.94 L601.07,511.71 L605.08,515.64 L609.09,519.73 L613.10,524.01 L617.11,528.51 L621.12,533.27 L621.47,533.69 L621.82,534.12 L622.16,534.55 L622.51,534.98 L622.86,535.41 L623.20,535.85 L623.55,536.29 L623.90,536.73 L624.24,537.17 L624.59,537.62 L624.94,538.06 L625.29,538.51 L625.63,538.97 L625.98,539.42 L626.33,539.88 L626.67,540.34 L627.02,540.81 L627.37,541.27 L627.71,541.74 L628.06,542.22 L628.41,542.69 L628.75,543.17 L629.10,543.65 L629.45,544.14 L629.79,544.62 L630.14,545.11 L630.49,545.61 L630.84,546.10 L631.18,546.61 L631.53,547.11 L631.88,547.62 L632.22,548.13 L632.57,548.64 L632.92,549.16 L633.26,549.68 L633.61,550.21 L633.96,550.74 L634.30,551.27 L634.65,551.81 L635.00,552.35 L635.34,552.89 L635.69,553.44 L636.04,554.00 L636.39,554.55 L636.73,555.12 L637.08,555.68 L637.43,556.25 L637.77,556.83 L638.12,557.41 L638.47,558.00 L638.81,558.59 L639.16,559.18 L639.51,559.78 L639.85,560.39 L640.20,561.00 L640.55,561.62 L640.89,562.24 L641.24,562.87 L641.59,563.50 L641.93,564.14 L642.28,564.79 L642.63,565.44 L642.98,566.10 L643.32,566.77 L643.67,567.44 L644.02,568.12 L644.36,568.81 L644.71,569.50 L645.06,570.20 L645.40,570.91 L645.75,571.63 L646.10,572.35 L646.44,573.08 L646.79,573.82 L647.14,574.57 L647.48,575.33 L647.83,576.10 L648.18,576.87 L648.53,577.66 L648.87,578.46 L649.22,579.26 L649.57,580.08 L649.91,580.90 L650.26,581.74 L650.61,582.59 L650.95,583.45 L651.30,584.33 L651.65,585.21 L651.99,586.11 L652.34,587.02 L652.69,587.95 L653.03,588.89 L653.38,589.85 L653.73,590.82 L654.08,591.80 L654.42,592.81 L654.77,593.83 L655.12,594.86 L655.46,595.92 L655.81,596.99 L656.16,598.09 L656.50,599.20 L656.85,600.34 L657.20,601.50 L657.54,602.68 L657.89,603.89 L658.24,605.12 L658.58,606.38 L658.93,607.67 L659.28,608.99 L659.63,610.33 L659.97,611.72 L660.20,612.64" stroke="#fca432" stroke-width="4.455" stroke-dasharray="16.483 7.128" stroke-linejoin="round"/>
<path d="M662.6999999999999,1.0 V643.7" stroke="#828282" stroke-width="4.605"/>
</g>
<path d="M111.71,643.7 v-6.1 M111.71,1.0 v6.1 M123.74,643.7 v-6.1 M123.74,1.0 v6.1 M134.35,643.7 v-6.1 M134.35,1.0 v6.1 M206.32,643.7 v-6.1 M206.32,1.0 v6.1 M242.86,643.7 v-6.1 M242.86,1.0 v6.1 M268.78,643.7 v-6.1 M268.78,1.0 v6.1 M288.89,643.7 v-6.1 M288.89,1.0 v6.1 M305.32,643.7 v-6.1 M305.32,1.0 v6.1 M319.22,643.7 v-6.1 M319.22,1.0 v6.1 M331.25,643.7 v-6.1 M331.25,1.0 v6.1 M341.86,643.7 v-6.1 M341.86,1.0 v6.1 M413.83,643.7 v-6.1 M413.83,1.0 v6.1 M450.37,643.7 v-6.1 M450.37,1.0 v6.1 M476.29,643.7 v-6.1 M476.29,1.0 v6.1 M496.40,643.7 v-6.1 M496.40,1.0 v6.1 M512.83,643.7 v-6.1 M512.83,1.0 v6.1 M526.73,643.7 v-6.1 M526.73,1.0 v6.1 M538.76,643.7 v-6.1 M538.76,1.0 v6.1 M549.37,643.7 v-6.1 M549.37,1.0 v6.1 M621.34,643.7 v-6.1 M621.34,1.0 v6.1 M657.88,643.7 v-6.1 M657.88,1.0 v6.1 M683.80,643.7 v-6.1 M683.80,1.0 v6.1 M703.91,643.7 v-6.1 M703.91,1.0 v6.1 M720.34,643.7 v-6.1 M720.34,1.0 v6.1 M734.24,643.7 v-6.1 M734.24,1.0 v6.1 M746.27,643.7 v-6.1 M746.27,1.0 v6.1 M756.88,643.7 v-6.1 M756.88,1.0 v6.1 M828.85,643.7 v-6.1 M828.85,1.0 v6.1 M865.39,643.7 v-6.1 M865.39,1.0 v6.1 M891.31,643.7 v-6.1 M891.31,1.0 v6.1 M911.42,643.7 v-6.1 M911.42,1.0 v6.1 M927.85,643.7 v-6.1 M927.85,1.0 v6.1 M941.75,643.7 v-6.1 M941.75,1.0 v6.1 M953.78,643.7 v-6.1 M953.78,1.0 v6.1 M964.39,643.7 v-6.1 M964.39,1.0 v6.1 M111.5,634.94 h6.1 M974.1,634.94 h-6.1 M111.5,622.70 h6.1 M974.1,622.70 h-6.1 M111.5,613.20 h6.1 M974.1,613.20 h-6.1 M111.5,605.44 h6.1 M974.1,605.44 h-6.1 M111.5,598.88 h6.1 M974.1,598.88 h-6.1 M111.5,593.20 h6.1 M974.1,593.20 h-6.1 M111.5,588.18 h6.1 M974.1,588.18 h-6.1 M111.5,554.20 h6.1 M974.1,554.20 h-6.1 M111.5,536.94 h6.1 M974.1,536.94 h-6.1 M111.5,524.70 h6.1 M974.1,524.70 h-6.1 M111.5,515.20 h6.1 M974.1,515.20 h-6.1 M111.5,507.44 h6.1 M974.1,507.44 h-6.1 M111.5,500.88 h6.1 M974.1,500.88 h-6.1 M111.5,495.20 h6.1 M974.1,495.20 h-6.1 M111.5,490.18 h6.1 M974.1,490.18 h-6.1 M111.5,456.20 h6.1 M974.1,456.20 h-6.1 M111.5,438.94 h6.1 M974.1,438.94 h-6.1 M111.5,426.70 h6.1 M974.1,426.70 h-6.1 M111.5,417.20 h6.1 M974.1,417.20 h-6.1 M111.5,409.44 h6.1 M974.1,409.44 h-6.1 M111.5,402.88 h6.1 M974.1,402.88 h-6.1 M111.5,397.20 h6.1 M974.1,397.20 h-6.1 M111.5,392.18 h6.1 M974.1,392.18 h-6.1 M111.5,358.20 h6.1 M974.1,358.20 h-6.1 M111.5,340.94 h6.1 M974.1,340.94 h-6.1 M111.5,328.70 h6.1 M974.1,328.70 h-6.1 M111.5,319.20 h6.1 M974.1,319.20 h-6.1 M111.5,311.44 h6.1 M974.1,311.44 h-6.1 M111.5,304.88 h6.1 M974.1,304.88 h-6.1 M111.5,299.20 h6.1 M974.1,299.20 h-6.1 M111.5,294.18 h6.1 M974.1,294.18 h-6.1 M111.5,260.20 h6.1 M974.1,260.20 h-6.1 M111.5,242.94 h6.1 M974.1,242.94 h-6.1 M111.5,230.70 h6.1 M974.1,230.70 h-6.1 M111.5,221.20 h6.1 M974.1,221.20 h-6.1 M111.5,213.44 h6.1 M974.1,213.44 h-6.1 M111.5,206.88 h6.1 M974.1,206.88 h-6.1 M111.5,201.20 h6.1 M974.1,201.20 h-6.1 M111.5,196.18 h6.1 M974.1,196.18 h-6.1 M111.5,162.20 h6.1 M974.1,162.20 h-6.1 M111.5,144.94 h6.1 M974.1,144.94 h-6.1 M111.5,132.70 h6.1 M974.1,132.70 h-6.1 M111.5,123.20 h6.1 M974.1,123.20 h-6.1 M111.5,115.44 h6.1 M974.1,115.44 h-6.1 M111.5,108.88 h6.1 M974.1,108.88 h-6.1 M111.5,103.20 h6.1 M974.1,103.20 h-6.1 M111.5,98.18 h6.1 M974.1,98.18 h-6.1 M111.5,64.20 h6.1 M974.1,64.20 h-6.1 M111.5,46.94 h6.1 M974.1,46.94 h-6.1 M111.5,34.70 h6.1 M974.1,34.70 h-6.1 M111.5,25.20 h6.1 M974.1,25.20 h-6.1 M111.5,17.44 h6.1 M974.1,17.44 h-6.1 M111.5,10.88 h6.1 M974.1,10.88 h-6.1 M111.5,5.20 h6.1 M974.1,5.20 h-6.1" stroke="#000" stroke-width="2.25" fill="none"/>
<path d="M143.85,643.7 v-10.6 M143.85,1.0 v10.6 M351.36,643.7 v-10.6 M351.36,1.0 v10.6 M558.87,643.7 v-10.6 M558.87,1.0 v10.6 M766.38,643.7 v-10.6 M766.38,1.0 v10.6 M973.89,643.7 v-10.6 M973.89,1.0 v10.6 M111.5,583.70 h10.6 M974.1,583.70 h-10.6 M111.5,485.70 h10.6 M974.1,485.70 h-10.6 M111.5,387.70 h10.6 M974.1,387.70 h-10.6 M111.5,289.70 h10.6 M974.1,289.70 h-10.6 M111.5,191.70 h10.6 M974.1,191.70 h-10.6 M111.5,93.70 h10.6 M974.1,93.70 h-10.6" stroke="#000" stroke-width="3" fill="none"/>
<path d="M111.5,-0.5 V645.0500000000001" stroke="#000" stroke-width="3" fill="none"/>
<path d="M974.1,-0.5 V645.0500000000001" stroke="#000" stroke-width="2.5" fill="none"/>
<path d="M110.0,643.7 H975.35" stroke="#000" stroke-width="2.7" fill="none"/>
<path d="M110.0,0.9 H975.35" stroke="#000" stroke-width="2.8" fill="none"/>
<g font-family="Liberation Sans, sans-serif" fill="#000" stroke="#000" stroke-width="0.35">
<text transform="translate(41.00 599.00) scale(1 1.03)" font-size="30" >10</text><text transform="translate(75.00 577.80) scale(1 1.03)" font-size="21" >−6</text>
<text transform="translate(41.00 501.00) scale(1 1.03)" font-size="30" >10</text><text transform="translate(75.00 479.80) scale(1 1.03)" font-size="21" >−5</text>
<text transform="translate(41.00 403.00) scale(1 1.03)" font-size="30" >10</text><text transform="translate(75.00 381.80) scale(1 1.03)" font-size="21" >−4</text>
<text transform="translate(41.00 305.00) scale(1 1.03)" font-size="30" >10</text><text transform="translate(75.00 283.80) scale(1 1.03)" font-size="21" >−3</text>
<text transform="translate(41.00 207.00) scale(1 1.03)" font-size="30" >10</text><text transform="translate(75.00 185.80) scale(1 1.03)" font-size="21" >−2</text>
<text transform="translate(41.00 109.00) scale(1 1.03)" font-size="30" >10</text><text transform="translate(75.00 87.80) scale(1 1.03)" font-size="21" >−1</text>
<text transform="translate(119.80 687.20) scale(1 1.03)" font-size="30" >10</text><text transform="translate(153.16 665.60) scale(1 1.03)" font-size="21" >6</text>
<text transform="translate(327.31 687.20) scale(1 1.03)" font-size="30" >10</text><text transform="translate(360.67 665.60) scale(1 1.03)" font-size="21" >7</text>
<text transform="translate(534.82 687.20) scale(1 1.03)" font-size="30" >10</text><text transform="translate(568.18 665.60) scale(1 1.03)" font-size="21" >8</text>
<text transform="translate(742.33 687.20) scale(1 1.03)" font-size="30" >10</text><text transform="translate(775.69 665.60) scale(1 1.03)" font-size="21" >9</text>
<text transform="translate(943.79 687.20) scale(1 1.03)" font-size="30" >10</text><text transform="translate(977.15 665.60) scale(1 1.03)" font-size="21" >10</text>
<g transform="translate(21.7,387.3) rotate(-90)">
<text transform="translate(-0.90 0.00) scale(1 1.03)" font-size="30" font-style="italic">N</text>
<text transform="translate(21.80 5.20) scale(1 1.03)" font-size="21" >CL</text>
<text transform="translate(48.70 0.00) scale(1 1.03)" font-size="30" >/</text>
<text transform="translate(58.50 0.00) scale(1 1.03)" font-size="30" font-style="italic">N</text>
<text transform="translate(81.10 5.20) scale(1 1.03)" font-size="21" >AGN</text>
</g>
</g>
<g font-family="DejaVu Sans, sans-serif" fill="#000" stroke="#000" stroke-width="0.3">
<text x="459.5" y="729.7" font-size="30" font-style="oblique">M</text>
<text x="484.9" y="735.2" font-size="20.7">SMBH</text>
<text x="554.9" y="729.7" font-size="30">[</text>
<text x="563.2" y="729.7" font-size="30" font-style="oblique">M</text>
<text x="593.3" y="735.2" font-size="21">⊙</text>
<text x="612.6" y="729.7" font-size="30">]</text>
</g>
<rect x="671.7" y="11.5" width="291.90" height="231.20" rx="4.2" ry="4.2" fill="#e7e7e7" stroke="#c9c9c9" stroke-width="2.6"/>
<g fill="none" stroke-width="4.455">
<path d="M679.85,27.3 H721.85" stroke="#000" stroke-linecap="square"/>
<path d="M679.85,56.9 H721.85" stroke="#000" stroke-dasharray="4.455 7.351"/>
<path d="M679.85,86.3 H721.85" stroke="#000" stroke-dasharray="16.483 7.128"/>
<path d="M679.85,118.8 H721.85" stroke="#0d0887" stroke-dasharray="4.455 7.351"/>
<path d="M679.85,152.4 H721.85" stroke="#ac2694" stroke-dasharray="4.455 7.351"/>
<path d="M679.85,186.6 H721.85" stroke="#fca432" stroke-dasharray="4.455 7.351"/>
<path d="M679.85,221.2 H721.85" stroke="#838383" stroke-linecap="square"/>
</g>
<g font-family="Liberation Sans, sans-serif" fill="#000" stroke="#000" stroke-width="0.35">
<text transform="translate(738.60 34.70) scale(1 1.03)" font-size="20.65" >Total TDE</text>
<text transform="translate(738.60 64.00) scale(1 1.03)" font-size="20.65" >AGN enhanced TDE</text>
<text transform="translate(738.60 93.30) scale(1 1.03)" font-size="20.65" >Relaxation TDE</text>
<text x="738.6" y="123.5" font-size="21" font-family="DejaVu Sans, sans-serif" font-style="oblique">γ</text>
<text transform="translate(751.00 126.70) scale(1 1.03)" font-size="14.3" >NSC</text>
<text x="785.3" y="122.8" font-size="21" font-family="DejaVu Sans, sans-serif">=</text>
<text transform="translate(807.30 122.80) scale(1 1.03)" font-size="20.65" >1.5</text>
<text x="738.6" y="157.7" font-size="21" font-family="DejaVu Sans, sans-serif" font-style="oblique">γ</text>
<text transform="translate(751.00 160.90) scale(1 1.03)" font-size="14.3" >NSC</text>
<text x="785.3" y="157.0" font-size="21" font-family="DejaVu Sans, sans-serif">=</text>
<text transform="translate(807.30 157.00) scale(1 1.03)" font-size="20.65" >2</text>
<text x="738.6" y="191.9" font-size="21" font-family="DejaVu Sans, sans-serif" font-style="oblique">γ</text>
<text transform="translate(751.00 195.10) scale(1 1.03)" font-size="14.3" >NSC</text>
<text x="785.3" y="191.2" font-size="21" font-family="DejaVu Sans, sans-serif">=</text>
<text transform="translate(807.30 191.20) scale(1 1.03)" font-size="20.65" >2.5</text>
</g>
<g font-family="DejaVu Sans, sans-serif" fill="#000" font-size="21" stroke="#000" stroke-width="0.25">
<text x="738.6" y="226.0" font-style="oblique">M</text>
<text x="755.9" y="229.6" font-size="14.7">TDE,</text>
<text x="791.6" y="229.6" font-size="14.7">max</text>
<text x="825.1" y="226.0">(1</text>
<text x="845.8" y="226.0" font-style="oblique">M</text>
<text x="867.3" y="229.6" font-size="14.7">⊙</text>
<text x="883.5" y="226.0">,</text>
<text x="893.5" y="226.0" font-style="oblique">a</text>
<text x="911" y="226.0">=</text>
<text x="932.6" y="226.0">0</text>
<text x="945.4" y="226.0">)</text>
</g>
</svg>
</body></html>
